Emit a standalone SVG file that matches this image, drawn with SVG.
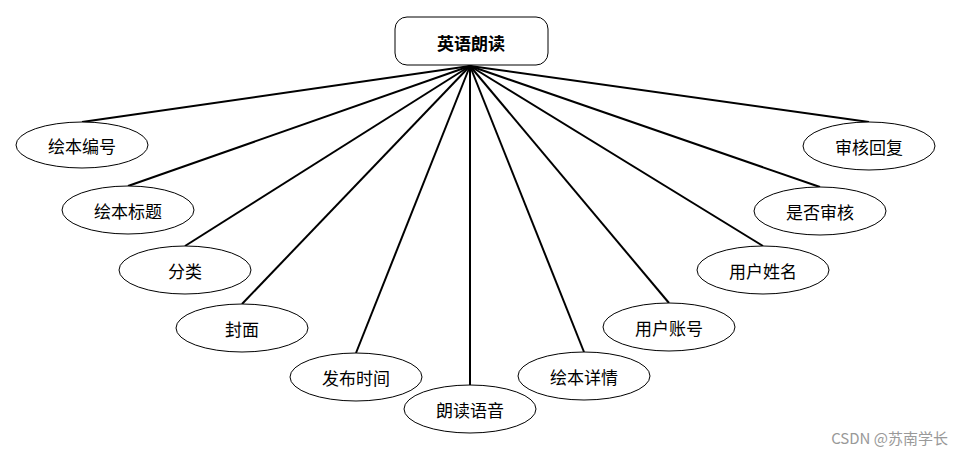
<svg xmlns="http://www.w3.org/2000/svg" width="964" height="454" viewBox="0 0 964 454">
<style>
.e{fill:#fff;stroke:#000;stroke-width:1}
.t{font-family:"Noto Sans CJK SC",sans-serif;font-size:17px;text-anchor:middle;dominant-baseline:central;fill:#000}
.c line{stroke:#000;stroke-width:2}
</style>
<rect width="964" height="454" fill="#fff"/>
<g class="c">
<line x1="470" y1="66" x2="82" y2="122"/>
<line x1="470" y1="66" x2="128" y2="186"/>
<line x1="470" y1="66" x2="185" y2="246"/>
<line x1="470" y1="66" x2="242" y2="304"/>
<line x1="470" y1="66" x2="356" y2="353"/>
<line x1="470" y1="66" x2="470" y2="385"/>
<line x1="470" y1="66" x2="584" y2="352"/>
<line x1="470" y1="66" x2="669" y2="303"/>
<line x1="470" y1="66" x2="763" y2="246"/>
<line x1="470" y1="66" x2="820" y2="187"/>
<line x1="470" y1="66" x2="869" y2="122"/>
</g>
<g id="root"><rect x="395" y="17" width="153" height="48" rx="12" fill="#fff" stroke="#000"/><text class="t" x="471" y="42" font-weight="bold">英语朗读</text></g>
<g id="n1"><ellipse class="e" cx="82" cy="145" rx="66" ry="23"/><text class="t" x="82" y="145">绘本编号</text></g>
<g id="n2"><ellipse class="e" cx="128" cy="210" rx="66" ry="24"/><text class="t" x="128" y="210">绘本标题</text></g>
<g id="n3"><ellipse class="e" cx="185" cy="270" rx="66" ry="24"/><text class="t" x="185" y="270">分类</text></g>
<g id="n4"><ellipse class="e" cx="242" cy="328" rx="66" ry="24"/><text class="t" x="242" y="328">封面</text></g>
<g id="n5"><ellipse class="e" cx="356" cy="377" rx="66" ry="24"/><text class="t" x="356" y="377">发布时间</text></g>
<g id="n6"><ellipse class="e" cx="470" cy="409" rx="66" ry="24"/><text class="t" x="470" y="409">朗读语音</text></g>
<g id="n7"><ellipse class="e" cx="584" cy="376" rx="66" ry="24"/><text class="t" x="584" y="376">绘本详情</text></g>
<g id="n8"><ellipse class="e" cx="669" cy="327" rx="66" ry="24"/><text class="t" x="669" y="327">用户账号</text></g>
<g id="n9"><ellipse class="e" cx="763" cy="270" rx="66" ry="24"/><text class="t" x="763" y="270">用户姓名</text></g>
<g id="n10"><ellipse class="e" cx="820" cy="211" rx="66" ry="24"/><text class="t" x="820" y="211">是否审核</text></g>
<g id="n11"><ellipse class="e" cx="869" cy="146" rx="66" ry="24"/><text class="t" x="869" y="146">审核回复</text></g>
<text x="948" y="437" font-family="'Noto Sans CJK SC',sans-serif" font-size="15" fill="#999" text-anchor="end" dominant-baseline="central">CSDN @苏南学长</text>
</svg>
